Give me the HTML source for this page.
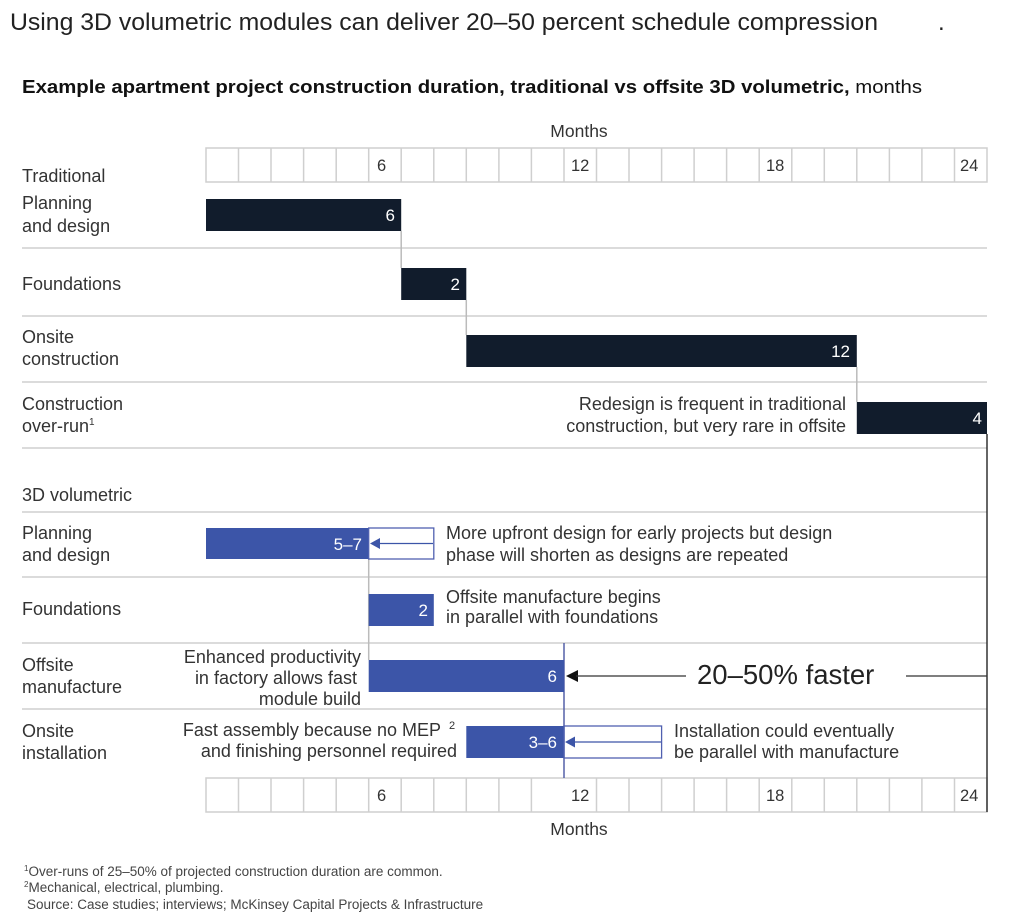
<!DOCTYPE html>
<html><head><meta charset="utf-8"><style>
html,body{margin:0;padding:0;background:#fff;}
svg{display:block;font-family:"Liberation Sans",sans-serif;}
</style></head><body>
<svg width="1024" height="922" viewBox="0 0 1024 922" xmlns="http://www.w3.org/2000/svg">
<text x="10" y="30" font-size="24" fill="#222" textLength="868" lengthAdjust="spacingAndGlyphs">Using 3D volumetric modules can deliver 20–50 percent schedule compression</text>
<text x="938" y="30" font-size="24" fill="#222">.</text>
<text x="22" y="93" font-size="18" fill="#111" textLength="900" lengthAdjust="spacingAndGlyphs"><tspan font-weight="bold">Example apartment project construction duration, traditional vs offsite 3D volumetric,</tspan> months</text>

<text x="579" y="137" font-size="17.5" fill="#333" text-anchor="middle">Months</text>
<g stroke="#cfcfcf" stroke-width="1.5" fill="none">
<rect x="206" y="148" width="781" height="34"/>
<rect x="206" y="778" width="781" height="34"/>
<path d="M238.5 148V182M271 148V182M303.6 148V182M336.2 148V182M368.7 148V182M401.2 148V182M433.8 148V182M466.3 148V182M498.9 148V182M531.4 148V182M564 148V182M596.5 148V182M629 148V182M661.6 148V182M694.1 148V182M726.6 148V182M759.2 148V182M791.8 148V182M824.3 148V182M856.8 148V182M889.4 148V182M921.9 148V182M954.5 148V182"/>
<path d="M238.5 778V812M271 778V812M303.6 778V812M336.2 778V812M368.7 778V812M401.2 778V812M433.8 778V812M466.3 778V812M498.9 778V812M531.4 778V812M596.5 778V812M629 778V812M661.6 778V812M694.1 778V812M726.6 778V812M759.2 778V812M791.8 778V812M824.3 778V812M856.8 778V812M889.4 778V812M921.9 778V812M954.5 778V812"/>
<path d="M22 248H987M22 316H987M22 382H987M22 448H987M22 512H987M22 577H987M22 643H987M22 709H987"/>
</g>
<g font-size="16.5" fill="#333">
<text x="377" y="171">6</text><text x="571" y="171">12</text><text x="766" y="171">18</text><text x="960" y="171">24</text>
<text x="377" y="801">6</text><text x="571" y="801">12</text><text x="766" y="801">18</text><text x="960" y="801">24</text>
</g>
<text x="579" y="835" font-size="17.5" fill="#333" text-anchor="middle">Months</text>

<g font-size="18" fill="#333">
<text x="22" y="182">Traditional</text>
<text x="22" y="209">Planning</text><text x="22" y="232">and design</text>
<text x="22" y="290">Foundations</text>
<text x="22" y="343">Onsite</text><text x="22" y="365">construction</text>
<text x="22" y="410">Construction</text><text x="22" y="432">over-run<tspan font-size="10" dy="-7">1</tspan></text>
<text x="22" y="501">3D volumetric</text>
<text x="22" y="539">Planning</text><text x="22" y="561">and design</text>
<text x="22" y="615">Foundations</text>
<text x="22" y="671">Offsite</text><text x="22" y="693">manufacture</text>
<text x="22" y="737">Onsite</text><text x="22" y="759">installation</text>
</g>

<g stroke="#bbb" stroke-width="1.5">
<path d="M401.2 231V268M466.3 300V335M856.8 367V402M368.7 559V660"/>
</g>
<path d="M987 434V812" stroke="#333" stroke-width="1.5"/>
<path d="M564 643V778" stroke="#5560a8" stroke-width="1.5"/>

<g fill="#111c2c">
<rect x="206" y="199" width="195.2" height="32"/>
<rect x="401.2" y="268" width="65.1" height="32"/>
<rect x="466.3" y="335" width="390.5" height="32"/>
<rect x="856.8" y="402" width="130.2" height="32"/>
</g>
<g fill="#fff" font-size="17" text-anchor="end">
<text x="395" y="221">6</text><text x="460" y="290">2</text><text x="850" y="357">12</text><text x="982" y="424">4</text>
</g>
<g font-size="18" fill="#333" text-anchor="end">
<text x="846" y="410">Redesign is frequent in traditional</text>
<text x="846" y="432">construction, but very rare in offsite</text>
</g>

<g fill="#3c55a8">
<rect x="206" y="528" width="162.7" height="31"/>
<rect x="368.7" y="594" width="65.1" height="32"/>
<rect x="368.7" y="660" width="195.3" height="32"/>
<rect x="466.3" y="726" width="97.7" height="32"/>
</g>
<g fill="none" stroke="#5060b0" stroke-width="1.3">
<rect x="368.7" y="528" width="65.1" height="31"/>
<rect x="564" y="726" width="97.6" height="32"/>
</g>
<g stroke="#3c55a8" stroke-width="1.3"><path d="M378 543.5H433M573 742H661"/></g>
<path d="M370 543.5L380 538V549Z M565 742L575 736.5V747.5Z" fill="#3c55a8"/>
<g fill="#fff" font-size="17" text-anchor="end">
<text x="362" y="550">5–7</text><text x="428" y="616">2</text><text x="557" y="682">6</text><text x="557" y="748">3–6</text>
</g>
<path d="M566 676L578 670V682Z" fill="#111"/>
<path d="M576 676H686M906 676H987" stroke="#333" stroke-width="1.2"/>
<text x="697" y="684" font-size="27.5" fill="#222">20–50% faster</text>

<g font-size="18" fill="#333">
<text x="446" y="539">More upfront design for early projects but design</text>
<text x="446" y="561">phase will shorten as designs are repeated</text>
<text x="446" y="603">Offsite manufacture begins</text>
<text x="446" y="623">in parallel with foundations</text>
<text x="674" y="737">Installation could eventually</text>
<text x="674" y="758">be parallel with manufacture</text>
</g>
<g font-size="18" fill="#333" text-anchor="end">
<text x="361" y="663">Enhanced productivity</text>
<text x="357" y="684">in factory allows fast</text>
<text x="361" y="705">module build</text>
<text x="441" y="736">Fast assembly because no MEP</text>
<text x="457" y="757">and finishing  personnel required</text>
</g>
<text x="449" y="729" font-size="11" fill="#333">2</text>

<g font-size="13.5" fill="#444">
<text x="24" y="876"><tspan font-size="8" dy="-5">1</tspan><tspan dy="5">Over-runs of 25–50% of projected construction duration are common.</tspan></text>
<text x="24" y="892"><tspan font-size="8" dy="-5">2</tspan><tspan dy="5">Mechanical, electrical, plumbing.</tspan></text>
<text x="27" y="909">Source: Case studies; interviews;  McKinsey Capital Projects &amp; Infrastructure</text>
</g>
</svg>
</body></html>
